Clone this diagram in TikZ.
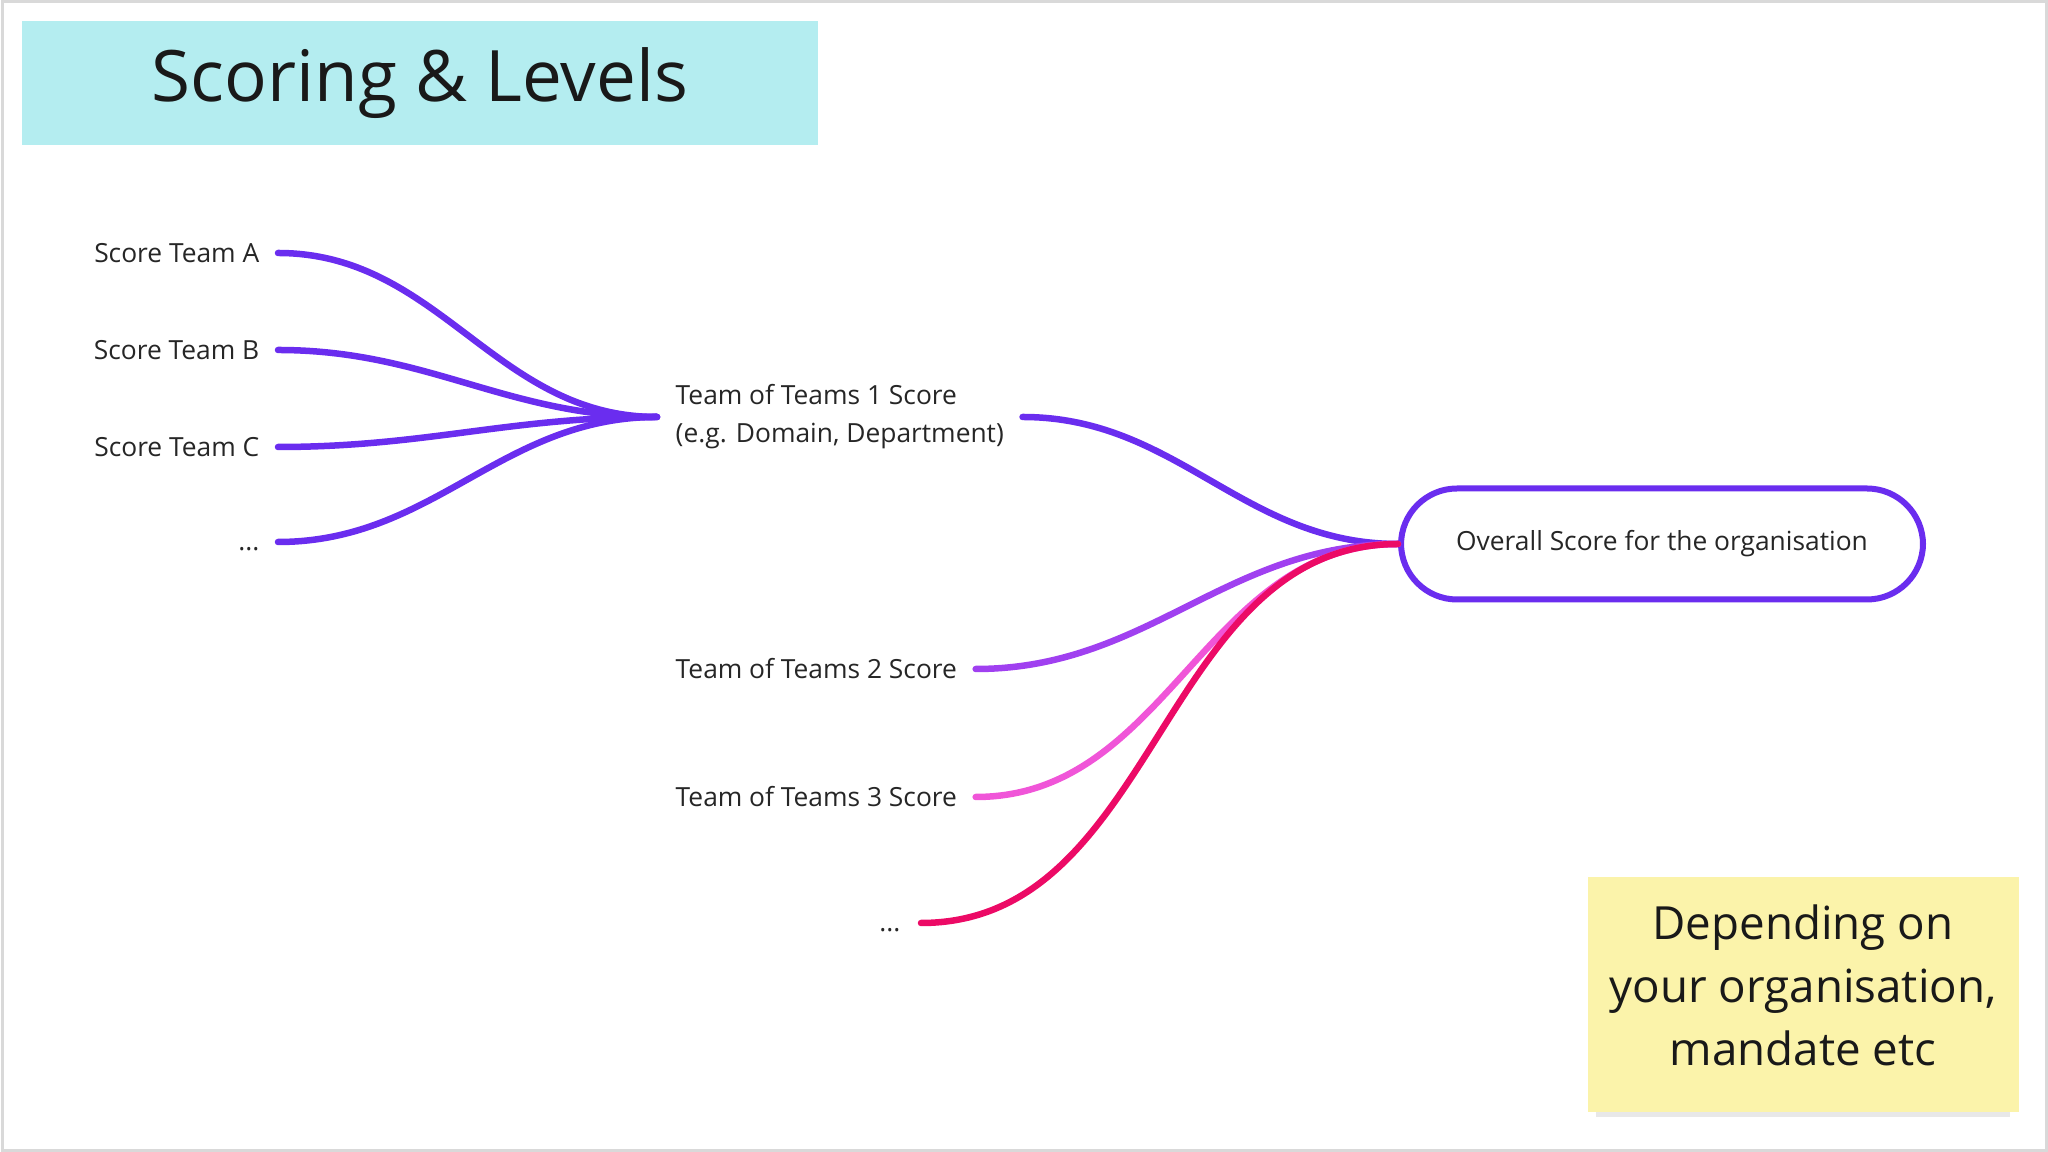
\documentclass[tikz,border=0pt]{standalone}
\usepackage{fontspec}
\setmainfont{Open Sans}
\usetikzlibrary{shadows}
\definecolor{lvlviolet}{HTML}{6A2DEF}
\definecolor{lvlorchid}{HTML}{A040F0}
\definecolor{lvlpink}{HTML}{F055D8}
\definecolor{lvlcrimson}{HTML}{EC0A66}
\definecolor{titlecyan}{HTML}{B4EDF0}
\definecolor{stickyyel}{HTML}{FBF3AA}
\definecolor{inkgrey}{HTML}{262626}

\begin{document}
\begin{tikzpicture}[
  x=0.1mm, y=-0.1mm,
  every node/.style={text=inkgrey},
  lab/.style={font=\fontsize{7.5}{10.8}\selectfont, inner xsep=1.8mm, inner ysep=0pt},
  dotlab/.style={lab, text height=5pt, text depth=0pt},
  link/.style={line width=0.65mm, line cap=round, out=0, in=180},
  titlebox/.style={rectangle, fill=titlecyan, minimum width=79.6mm, minimum height=12.4mm,
                   font=\fontsize{20.2}{24}\selectfont, text=black!90},
  org/.style={rectangle, rounded corners=5.6mm, draw=lvlviolet, line width=0.6mm,
              fill=white, minimum width=52.2mm, minimum height=11.1mm,
              font=\fontsize{7.5}{10.8}\selectfont},
  sticky/.style={rectangle, fill=stickyyel, minimum width=43.1mm, minimum height=23.5mm,
                 align=center, font=\fontsize{13}{17.8}\selectfont, text=black!90,
                 drop shadow={shadow xshift=0mm, shadow yshift=-1mm, shadow scale=0.96,
                              fill=black!50, opacity=0.18}},
]
\useasboundingbox (0,0) rectangle (2048,1152);
\draw[black!15, line width=0.3mm] (2,2) rectangle (2046,1150);

% ---------- title ----------
\node[titlebox] (title) at (420,83) {Scoring \& Levels};

% ---------- team scores (left column) ----------
\node[lab, anchor=east] (sa) at (278,253) {Score Team A};
\node[lab, anchor=east] (sb) at (278,350) {Score Team B};
\node[lab, anchor=east] (sc) at (278,447) {Score Team C};
\node[dotlab, anchor=east] (sd) at (278,542) {...};

% ---------- team of teams scores ----------
\node[lab, anchor=west, align=left] (tt1) at (657,417) {Team of Teams 1 Score\\(e.g. Domain, Department)};
\node[lab, anchor=west] (tt2) at (657,669) {Team of Teams 2 Score};
\node[lab, anchor=west] (tt3) at (657,797) {Team of Teams 3 Score};
\node[dotlab, anchor=east, inner xsep=2mm] (ttd) at (921,923) {...};

% ---------- organisation ----------
\node[org] (org) at (1662,544) {Overall Score for the organisation};

% ---------- connectors ----------
\foreach \s in {sa,sb,sc,sd} \draw[link, lvlviolet] (\s.east) to (tt1.west);
\draw[link, lvlviolet] (tt1.east) to (org.west);
\draw[link, lvlorchid] (tt2.east) to (org.west);
\draw[link, lvlpink] (tt3.east) to (org.west);
\draw[link, lvlcrimson] (ttd.east) to (org.west);

% ---------- note ----------
\node[sticky] (note) at (1803,995) {Depending on\\your organisation,\\mandate etc\rule[-5.6pt]{0pt}{5.6pt}};

\end{tikzpicture}
\end{document}
